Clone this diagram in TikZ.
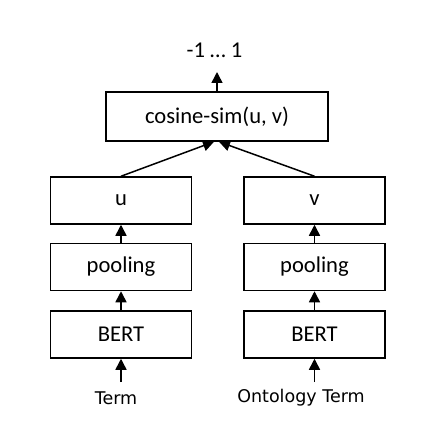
\documentclass[tikz,border=0pt]{standalone}
\usepackage{fontspec}
\setmainfont{Carlito}
\newfontfamily\labelfont{DejaVu Sans}
\usetikzlibrary{positioning,arrows.meta}

\begin{document}
\begin{tikzpicture}[x=1pt,y=-1pt,
    box/.style={draw,line width=1.5pt,minimum width=141pt,minimum height=47pt,inner sep=0pt,font=\fontsize{22.6}{26}\selectfont},
    lbl/.style={font=\labelfont\fontsize{17.5}{21}\selectfont},
    arr/.style={line width=1.5pt,-{Triangle[width=11pt,length=11pt]}}]
    \useasboundingbox (0,0) rectangle (422,433);
    % left branch
    \node[box] (u) at (121,200.5) {u};
    \node[box](pool_u)[below=18pt of u] {pooling};
    \node[box](bert_u)[below=19pt of pool_u] {BERT};
    % right branch
    \node[box] (v) at (314.5,200.5) {v};
    \node[box](pool_v)[below=18pt of v] {pooling};
    \node[box](bert_v)[below=19pt of pool_v] {BERT};
    % similarity
    \node[box,minimum width=222pt,minimum height=49pt] (cos) at (217,116.5) {cosine-sim(u, v)};
    \node[font=\fontsize{22.6}{26}\selectfont] (out) at (214.5,50) {-1 … 1};
    \coordinate (top) at (217,72);
    % inputs
    \node[lbl] (term) at (116,398) {Term};
    \node[lbl] (oterm) at (301,398) {Ontology Term};
    \coordinate (in_u) at (121,382);
    \coordinate (in_v) at (314.5,382);
    \draw[arr] (in_u) -- (bert_u);
    \draw[arr] (in_v) -- (bert_v);
    \draw[arr] (bert_u) -- (pool_u);
    \draw[arr] (bert_v) -- (pool_v);
    \draw[arr] (pool_u) -- (u);
    \draw[arr] (pool_v) -- (v);
    \draw[arr] (u.north) -- ([xshift=-3pt]cos.south);
    \draw[arr] (v.north) -- ([xshift=2pt]cos.south);
    \draw[arr] (cos) -- (top);
\end{tikzpicture}
\end{document}
